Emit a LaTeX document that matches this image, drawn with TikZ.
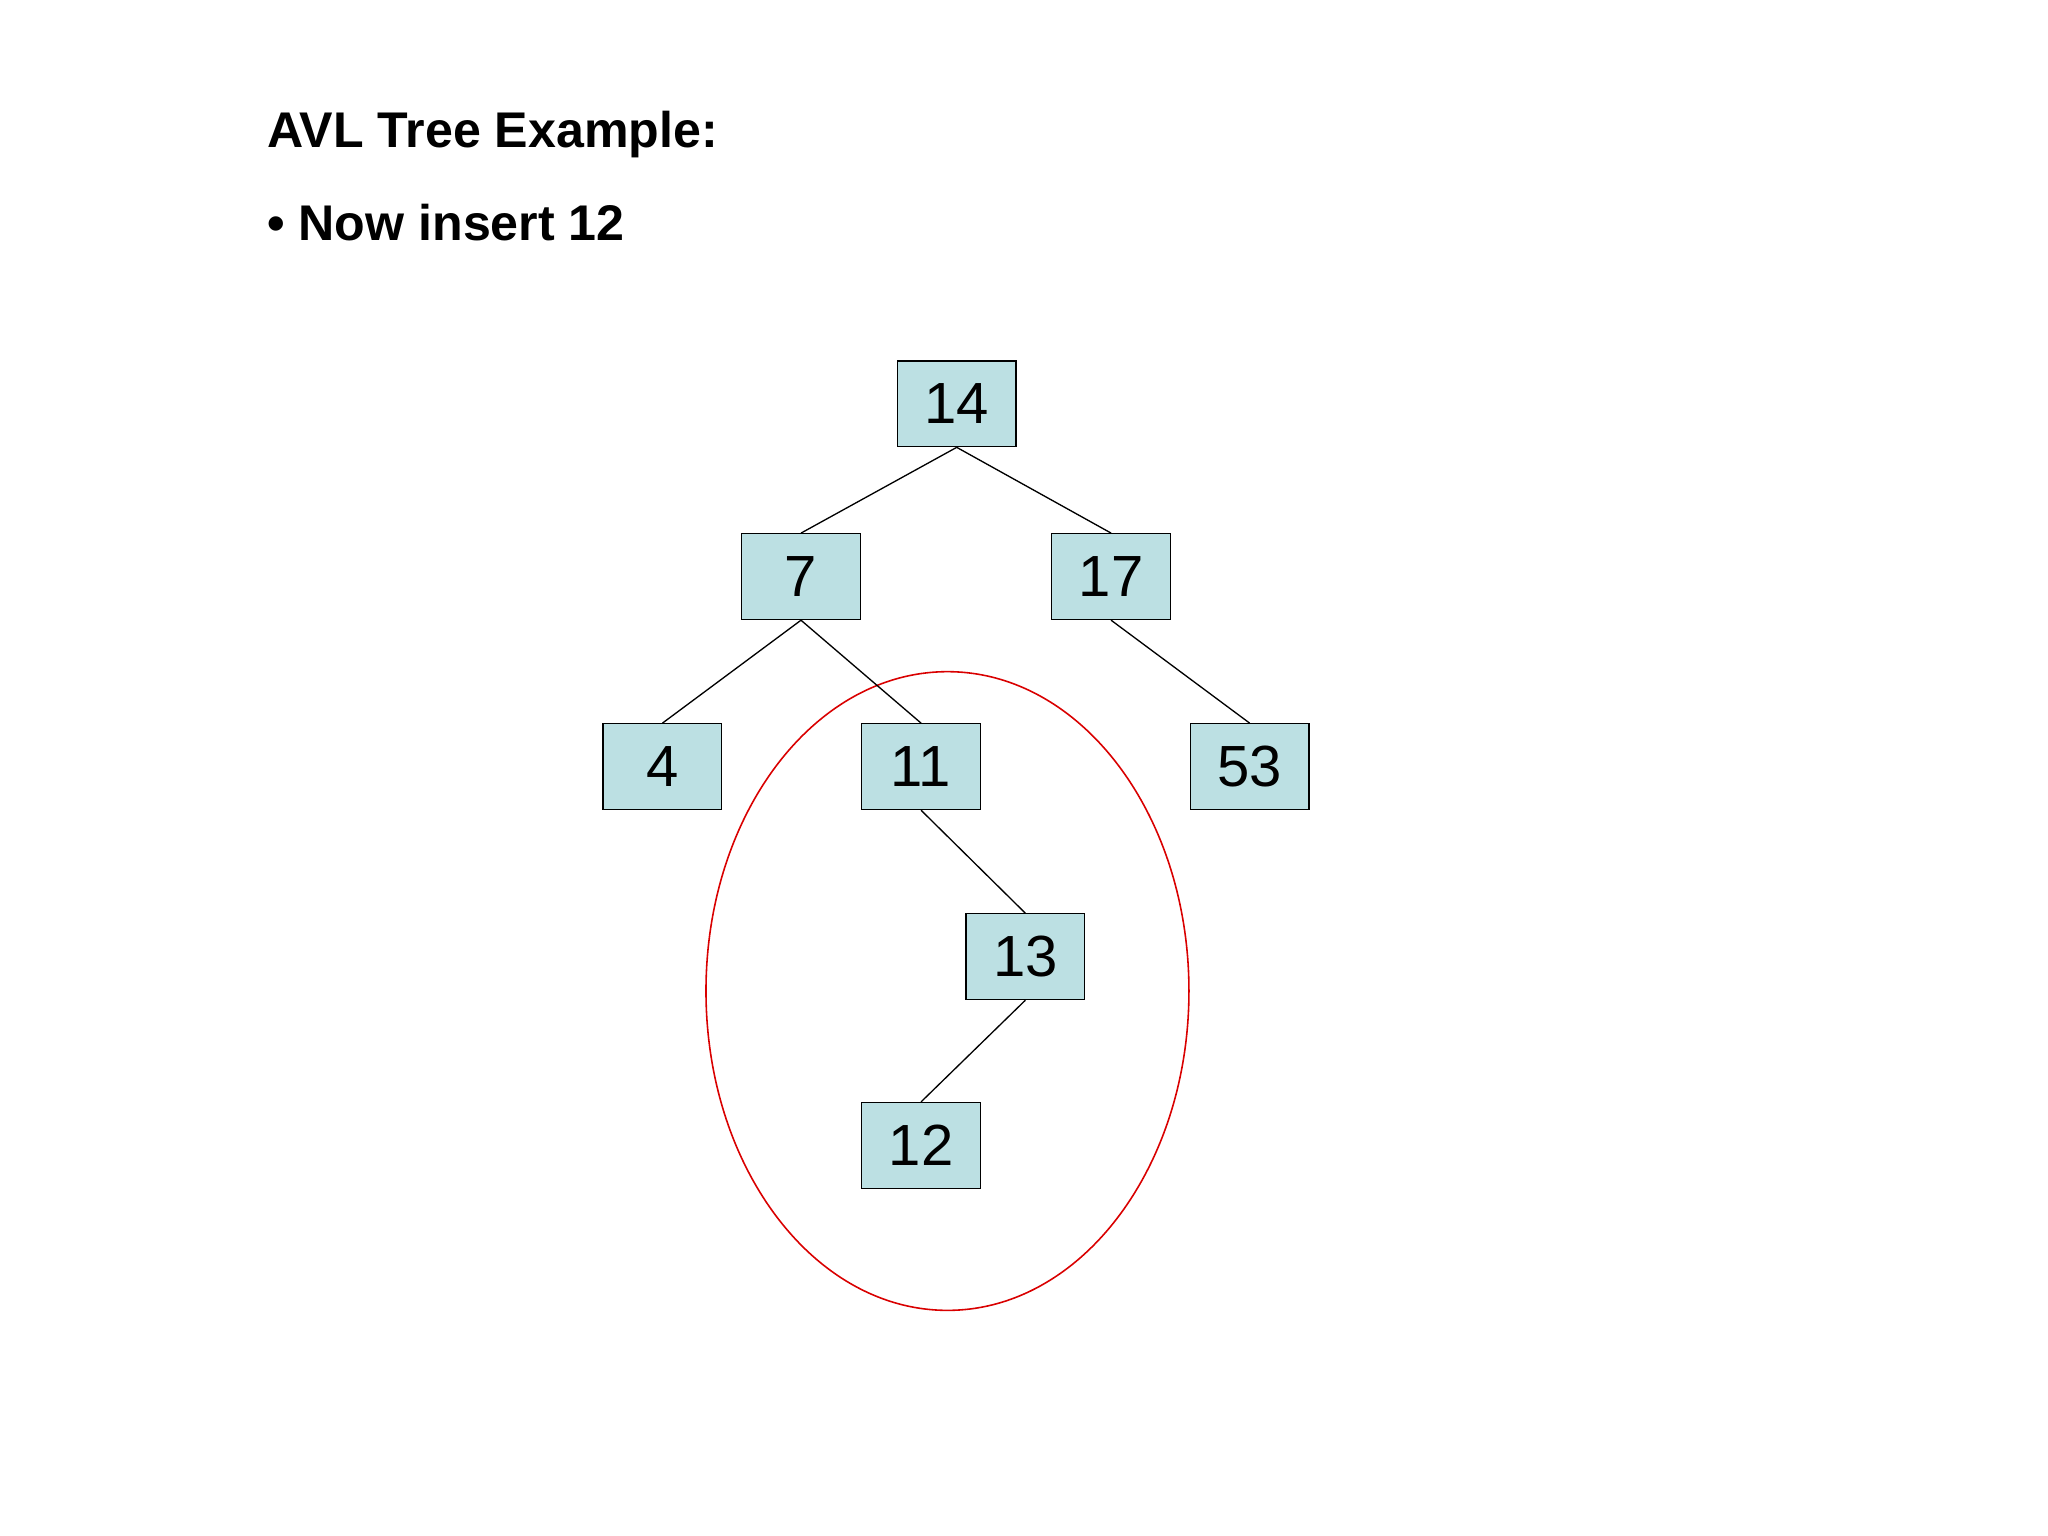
\documentclass[tikz,border=0pt]{standalone}
\usepackage{fontspec}
\usetikzlibrary{shapes.geometric}
\setmainfont{Liberation Sans}
\begin{document}
\begin{tikzpicture}[x=1pt,y=-1pt,
  tn/.style={draw=black,line width=1pt,fill=avlfill,minimum width=90pt,minimum height=65pt,inner sep=0pt,font=\fontsize{44}{48}\selectfont},
  ed/.style={draw=black,line width=1pt}]
\definecolor{avlfill}{HTML}{BCE0E3}
\useasboundingbox (0,0) rectangle (1552,1164);
\node[anchor=base west,font=\bfseries\fontsize{38}{42}\selectfont] (title) at (199,112) {AVL Tree Example:};
\node[anchor=base west,font=\bfseries\fontsize{38}{42}\selectfont] (bul) at (199,182) {\textbullet\ Now insert 12};
\node[draw=red!85!black,line width=1.2pt,ellipse,minimum width=366pt,minimum height=484pt,inner sep=0pt] (ell) at (718,751) {};
\node[tn] (n14) at (725,306) {14};
\node[tn] (n7) at (607,437) {7};
\node[tn] (n17) at (842,437) {17};
\node[tn] (n4) at (502,581) {4};
\node[tn] (n11) at (698,581) {11};
\node[tn] (n53) at (947,581) {53};
\node[tn] (n13) at (777,725) {13};
\node[tn] (n12) at (698,868) {12};
\draw[ed] (n14.south) -- (n7.north);
\draw[ed] (n14.south) -- (n17.north);
\draw[ed] (n7.south) -- (n4.north);
\draw[ed] (n7.south) -- (n11.north);
\draw[ed] (n17.south) -- (n53.north);
\draw[ed] (n11.south) -- (n13.north);
\draw[ed] (n13.south) -- (n12.north);
\end{tikzpicture}
\end{document}
